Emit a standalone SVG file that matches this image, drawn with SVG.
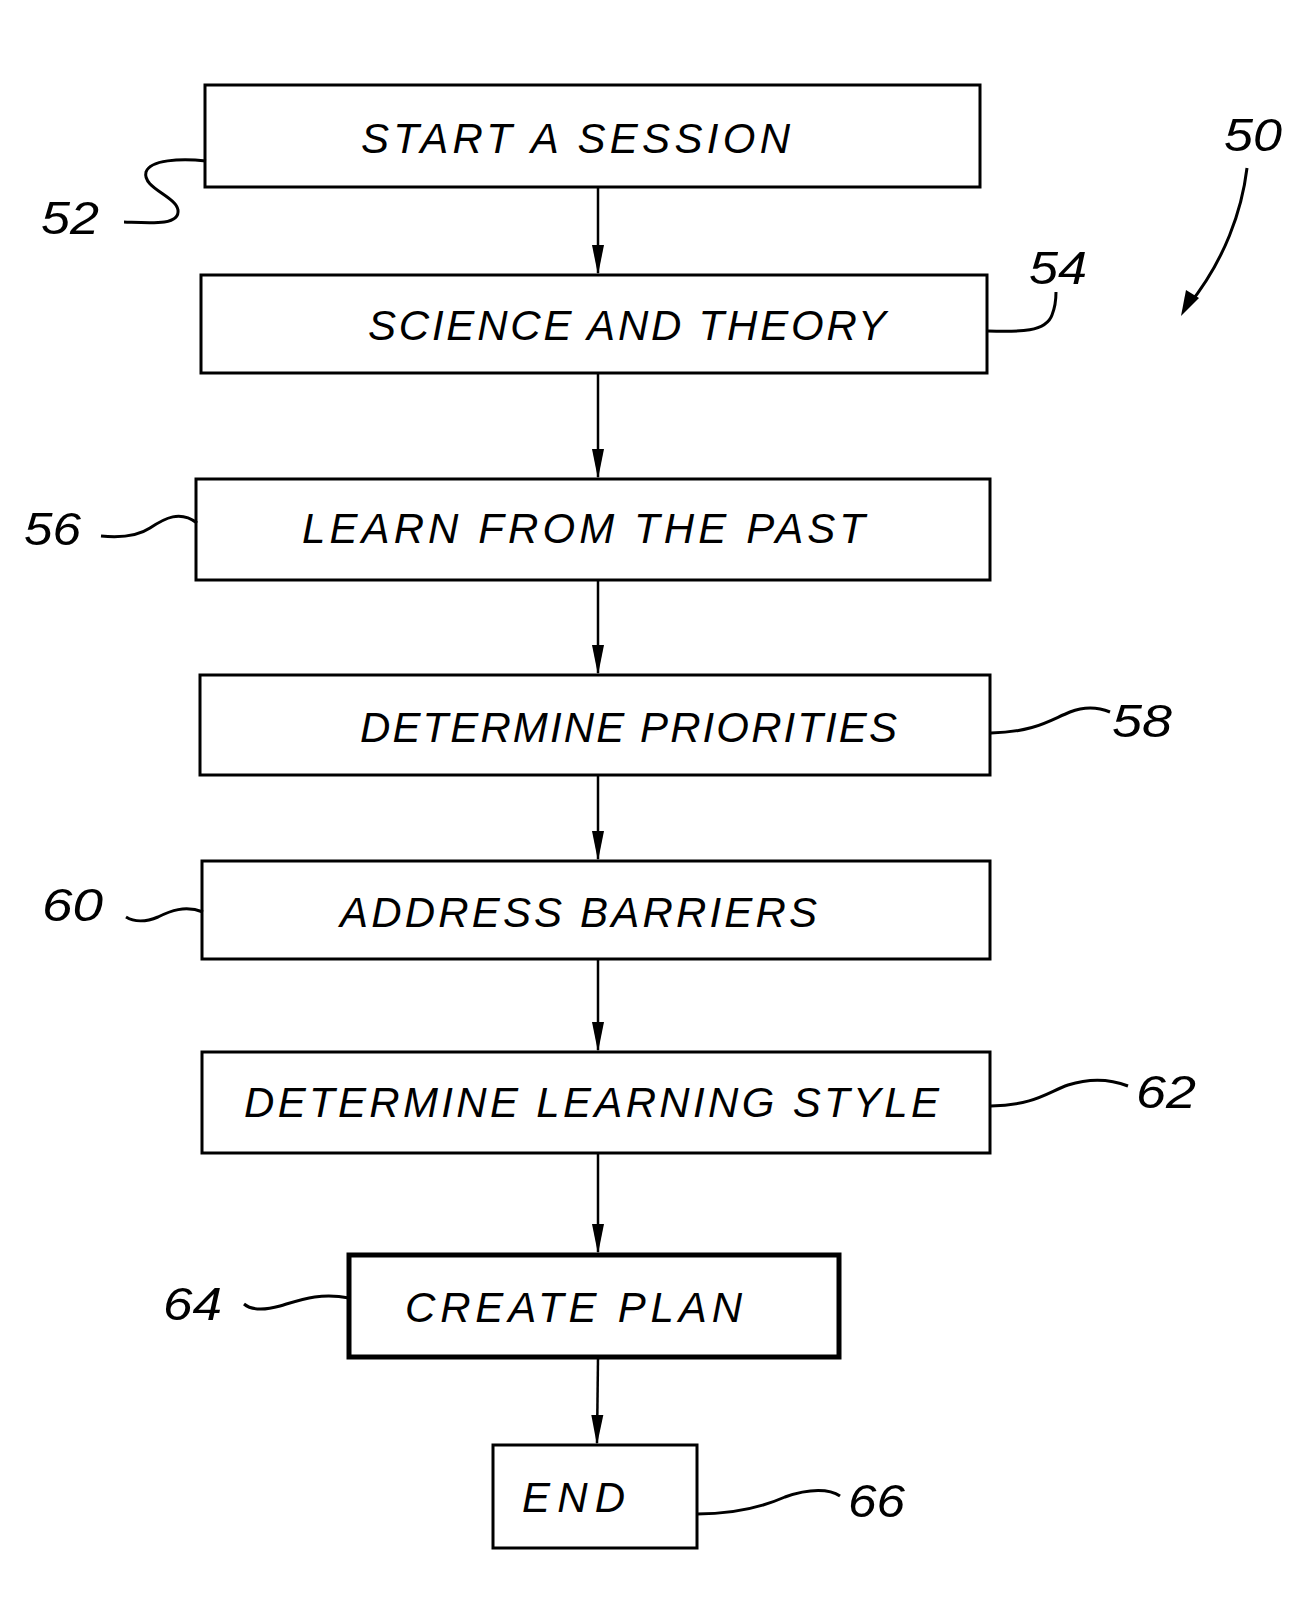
<svg xmlns="http://www.w3.org/2000/svg" width="1311" height="1621" viewBox="0 0 1311 1621">
<style>
.box{fill:#fff;stroke:#000;stroke-width:3}
.thick{stroke-width:5}
.t{font-family:"Liberation Sans",Arial,sans-serif;font-style:italic;font-size:42px;fill:#000}
.n{font-family:"Liberation Sans",Arial,sans-serif;font-style:italic;font-size:46px;fill:#000}
.c{stroke:#000;stroke-width:2.5;fill:none}
.l{stroke:#000;stroke-width:3;fill:none}
</style>
<defs>
<marker id="ah" markerUnits="userSpaceOnUse" markerWidth="30" markerHeight="14" refX="28" refY="7" orient="auto" viewBox="0 0 30 14">
<path d="M30,7 L0,1 L0,13 Z" fill="#000"/>
</marker>
</defs>
<g id="connectors">
<line class="c" x1="598" y1="188" x2="598" y2="273" marker-end="url(#ah)"/>
<line class="c" x1="598" y1="373" x2="598" y2="477" marker-end="url(#ah)"/>
<line class="c" x1="598" y1="580" x2="598" y2="673" marker-end="url(#ah)"/>
<line class="c" x1="598" y1="775" x2="598" y2="859" marker-end="url(#ah)"/>
<line class="c" x1="598" y1="959" x2="598" y2="1050" marker-end="url(#ah)"/>
<line class="c" x1="598" y1="1153" x2="598" y2="1252" marker-end="url(#ah)"/>
<line class="c" x1="598" y1="1358" x2="597" y2="1443" marker-end="url(#ah)"/>
</g>
<g id="n52">
<rect class="box" x="205" y="85" width="775" height="102"/>
<text class="t" x="361" y="153" textLength="429" lengthAdjust="spacing">START A SESSION</text>
</g>
<g id="n54">
<rect class="box" x="201" y="275" width="786" height="98"/>
<text class="t" x="368" y="340" textLength="518" lengthAdjust="spacing">SCIENCE AND THEORY</text>
</g>
<g id="n56">
<rect class="box" x="196" y="479" width="794" height="101"/>
<text class="t" x="302" y="543" textLength="563" lengthAdjust="spacing">LEARN FROM THE PAST</text>
</g>
<g id="n58">
<rect class="box" x="200" y="675" width="790" height="100"/>
<text class="t" x="360" y="742" textLength="537" lengthAdjust="spacing">DETERMINE PRIORITIES</text>
</g>
<g id="n60">
<rect class="box" x="202" y="861" width="788" height="98"/>
<text class="t" x="340" y="927" textLength="477" lengthAdjust="spacing">ADDRESS BARRIERS</text>
</g>
<g id="n62">
<rect class="box" x="202" y="1052" width="788" height="101"/>
<text class="t" x="244" y="1117" textLength="695" lengthAdjust="spacing">DETERMINE LEARNING STYLE</text>
</g>
<g id="n64">
<rect class="box thick" x="349" y="1255" width="490" height="102"/>
<text class="t" x="405" y="1322" textLength="337" lengthAdjust="spacing">CREATE PLAN</text>
</g>
<g id="n66">
<rect class="box" x="493" y="1445" width="204" height="103"/>
<text class="t" x="522" y="1512" textLength="103" lengthAdjust="spacing">END</text>
</g>
<g id="labels">
<text class="n" x="41" y="234" textLength="58" lengthAdjust="spacingAndGlyphs">52</text>
<path class="l" d="M206,161 C180,158 150,160 146,172 C142,188 176,196 178,210 C180,226 150,223 124,222"/>
<text class="n" x="1029" y="284" textLength="58" lengthAdjust="spacingAndGlyphs">54</text>
<path class="l" d="M988,331 C1020,332 1046,332 1052,315 C1056,305 1056,298 1056,292"/>
<text class="n" x="1224" y="151" textLength="58" lengthAdjust="spacingAndGlyphs">50</text>
<path class="l" d="M1247,168 C1242,210 1225,260 1188,306"/>
<path d="M1181,316 L1186,290 L1199,298 Z" fill="#000"/>
<text class="n" x="24" y="545" textLength="57" lengthAdjust="spacingAndGlyphs">56</text>
<path class="l" d="M197,523 C180,510 165,518 150,528 C138,536 122,538 101,536"/>
<text class="n" x="1112" y="737" textLength="60" lengthAdjust="spacingAndGlyphs">58</text>
<path class="l" d="M991,733 C1035,732 1050,720 1070,712 C1085,706 1098,707 1110,712"/>
<text class="n" x="42" y="921" textLength="61" lengthAdjust="spacingAndGlyphs">60</text>
<path class="l" d="M203,912 C185,905 170,911 158,917 C146,922 134,922 126,917"/>
<text class="n" x="1136" y="1108" textLength="60" lengthAdjust="spacingAndGlyphs">62</text>
<path class="l" d="M991,1106 C1035,1105 1048,1092 1068,1085 C1090,1078 1110,1079 1128,1086"/>
<text class="n" x="163" y="1320" textLength="59" lengthAdjust="spacingAndGlyphs">64</text>
<path class="l" d="M349,1298 C320,1292 300,1300 280,1306 C262,1311 250,1309 244,1304"/>
<text class="n" x="848" y="1517" textLength="57" lengthAdjust="spacingAndGlyphs">66</text>
<path class="l" d="M697,1514 C730,1514 760,1508 785,1497 C810,1488 830,1489 840,1496"/>
</g>
</svg>
